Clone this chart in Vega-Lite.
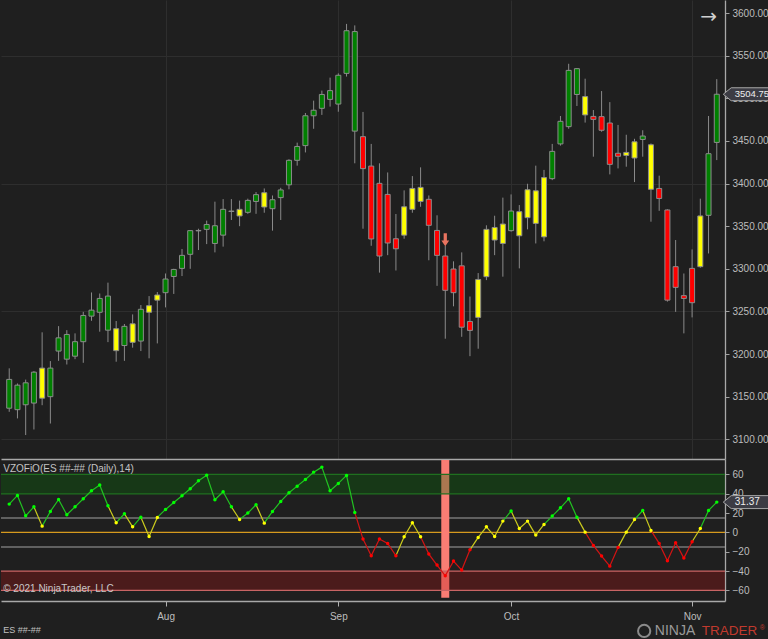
{
  "$schema": "https://vega.github.io/schema/vega-lite/v6.json",
  "background": "#1f1f1f",
  "padding": 0,
  "spacing": 0,
  "bounds": "flush",
  "config": {
    "view": {"stroke": null},
    "font": "Liberation Sans",
    "axis": {"labelFont": "Liberation Sans", "labelFontSize": 10, "labelColor": "#bdbdbd", "tickColor": "#a0a0a0", "domainColor": "#a0a0a0", "gridColor": "#2e2e2e", "labelOverlap": false, "labelAngle": 0},
    "axisRight": {"labelOverlap": false}
  },
  "datasets": {
    "bars": [
      {"date":"2020-07-07","open":3170.25,"high":3183.25,"low":3132.25,"close":3136.5,"vzo":29.3,"state":"up"},
      {"date":"2020-07-08","open":3134.75,"high":3165.5,"low":3124.5,"close":3163.5,"vzo":38.3,"state":"up"},
      {"date":"2020-07-09","open":3166.25,"high":3170,"low":3105,"close":3140.5,"vzo":17.2,"state":"up"},
      {"date":"2020-07-10","open":3142.5,"high":3180,"low":3111.5,"close":3178.75,"vzo":26.5,"state":"up"},
      {"date":"2020-07-13","open":3183.5,"high":3225.5,"low":3140,"close":3148.25,"vzo":6.5,"state":"neutral"},
      {"date":"2020-07-14","open":3150,"high":3191.75,"low":3118.5,"close":3183.5,"vzo":21.7,"state":"up"},
      {"date":"2020-07-15","open":3203.5,"high":3232.75,"low":3192,"close":3219,"vzo":34.1,"state":"up"},
      {"date":"2020-07-16","open":3223,"high":3228,"low":3187.75,"close":3194,"vzo":18.3,"state":"up"},
      {"date":"2020-07-17","open":3197.5,"high":3224.25,"low":3194,"close":3214.5,"vzo":26.5,"state":"up"},
      {"date":"2020-07-20","open":3214.5,"high":3249.5,"low":3189.75,"close":3245.25,"vzo":34.8,"state":"up"},
      {"date":"2020-07-21","open":3244.5,"high":3272.25,"low":3239,"close":3251.5,"vzo":43.1,"state":"up"},
      {"date":"2020-07-22","open":3249,"high":3271,"low":3226.25,"close":3265.25,"vzo":49.0,"state":"up"},
      {"date":"2020-07-23","open":3268,"high":3283.75,"low":3214,"close":3228,"vzo":27.6,"state":"up"},
      {"date":"2020-07-24","open":3229.75,"high":3238.75,"low":3191,"close":3204,"vzo":10.0,"state":"neutral"},
      {"date":"2020-07-27","open":3210,"high":3235.25,"low":3192,"close":3232.5,"vzo":19.3,"state":"up"},
      {"date":"2020-07-28","open":3235.5,"high":3246.5,"low":3207.5,"close":3213.75,"vzo":5.8,"state":"neutral"},
      {"date":"2020-07-29","open":3215.25,"high":3257.5,"low":3203.5,"close":3252.5,"vzo":15.8,"state":"up"},
      {"date":"2020-07-30","open":3256.75,"high":3268,"low":3195,"close":3249,"vzo":-4.2,"state":"neutral"},
      {"date":"2020-07-31","open":3263.25,"high":3272.75,"low":3212.5,"close":3269.25,"vzo":15.5,"state":"neutral"},
      {"date":"2020-08-03","open":3272,"high":3294.5,"low":3254.75,"close":3288,"vzo":23.8,"state":"up"},
      {"date":"2020-08-04","open":3291,"high":3300,"low":3270.5,"close":3299.25,"vzo":31.0,"state":"up"},
      {"date":"2020-08-05","open":3300.5,"high":3323.25,"low":3291.5,"close":3315.75,"vzo":37.9,"state":"up"},
      {"date":"2020-08-06","open":3317,"high":3345.5,"low":3300,"close":3344.75,"vzo":45.2,"state":"up"},
      {"date":"2020-08-07","open":3344.5,"high":3347,"low":3322,"close":3345,"vzo":53.4,"state":"up"},
      {"date":"2020-08-10","open":3346.25,"high":3356.5,"low":3329,"close":3352,"vzo":59.3,"state":"up"},
      {"date":"2020-08-11","open":3350.5,"high":3378.75,"low":3319.25,"close":3329.75,"vzo":33.8,"state":"up"},
      {"date":"2020-08-12","open":3339.5,"high":3381.75,"low":3326,"close":3369.75,"vzo":42.1,"state":"up"},
      {"date":"2020-08-13","open":3367.75,"high":3381.75,"low":3357.25,"close":3367.25,"vzo":26.5,"state":"up"},
      {"date":"2020-08-14","open":3369.75,"high":3380,"low":3350,"close":3362,"vzo":13.4,"state":"neutral"},
      {"date":"2020-08-17","open":3366.25,"high":3382.25,"low":3364.5,"close":3380.25,"vzo":20.0,"state":"up"},
      {"date":"2020-08-18","open":3379,"high":3390,"low":3364.5,"close":3387,"vzo":28.6,"state":"up"},
      {"date":"2020-08-19","open":3389.25,"high":3394.25,"low":3365.75,"close":3372.5,"vzo":9.6,"state":"neutral"},
      {"date":"2020-08-20","open":3370.5,"high":3386,"low":3344.75,"close":3381,"vzo":21.7,"state":"up"},
      {"date":"2020-08-21","open":3383.5,"high":3395,"low":3357.25,"close":3392.5,"vzo":32.1,"state":"up"},
      {"date":"2020-08-24","open":3398.5,"high":3428.5,"low":3393.25,"close":3427.25,"vzo":41.0,"state":"up"},
      {"date":"2020-08-25","open":3427.25,"high":3448,"low":3421,"close":3443.5,"vzo":47.9,"state":"up"},
      {"date":"2020-08-26","open":3444.5,"high":3482.75,"low":3436.5,"close":3479.5,"vzo":54.8,"state":"up"},
      {"date":"2020-08-27","open":3479.5,"high":3497.25,"low":3464.25,"close":3486,"vzo":62.4,"state":"up"},
      {"date":"2020-08-28","open":3488.25,"high":3509,"low":3480.5,"close":3504.5,"vzo":67.6,"state":"up"},
      {"date":"2020-08-31","open":3509,"high":3524.25,"low":3490.25,"close":3498.75,"vzo":43.1,"state":"up"},
      {"date":"2020-09-01","open":3493.25,"high":3529.25,"low":3484.25,"close":3527,"vzo":50.7,"state":"up"},
      {"date":"2020-09-02","open":3529.25,"high":3587.25,"low":3525.5,"close":3579.25,"vzo":59.0,"state":"up"},
      {"date":"2020-09-03","open":3578.25,"high":3585.5,"low":3423.75,"close":3461.5,"vzo":20.7,"state":"up"},
      {"date":"2020-09-04","open":3455,"high":3484,"low":3347,"close":3417.5,"vzo":-6.9,"state":"down"},
      {"date":"2020-09-08","open":3420.5,"high":3446.5,"low":3327,"close":3335,"vzo":-24.2,"state":"down"},
      {"date":"2020-09-09","open":3315,"high":3423.75,"low":3295.5,"close":3400.25,"vzo":-6.9,"state":"down"},
      {"date":"2020-09-10","open":3387.25,"high":3413,"low":3316,"close":3330.25,"vzo":-11.4,"state":"down"},
      {"date":"2020-09-11","open":3335.25,"high":3364.25,"low":3298,"close":3323.5,"vzo":-24.2,"state":"down"},
      {"date":"2020-09-14","open":3339.5,"high":3392,"low":3335.25,"close":3372.75,"vzo":-4.5,"state":"neutral"},
      {"date":"2020-09-15","open":3369.75,"high":3408.75,"low":3365.75,"close":3394.25,"vzo":10.0,"state":"neutral"},
      {"date":"2020-09-16","open":3395.5,"high":3419,"low":3372.75,"close":3379,"vzo":-4.5,"state":"neutral"},
      {"date":"2020-09-17","open":3381.5,"high":3386,"low":3310,"close":3351,"vzo":-22.4,"state":"down"},
      {"date":"2020-09-18","open":3345,"high":3362.75,"low":3280,"close":3315.75,"vzo":-33.8,"state":"down"},
      {"date":"2020-09-21","open":3315,"high":3327,"low":3218,"close":3274.75,"vzo":-44.9,"state":"down"},
      {"date":"2020-09-22","open":3272,"high":3308.75,"low":3256,"close":3299.75,"vzo":-29.7,"state":"down"},
      {"date":"2020-09-23","open":3303.5,"high":3319.25,"low":3220.25,"close":3231.5,"vzo":-39.0,"state":"down"},
      {"date":"2020-09-24","open":3227.75,"high":3267.5,"low":3197.5,"close":3238.25,"vzo":-18.0,"state":"down"},
      {"date":"2020-09-25","open":3243,"high":3295,"low":3206.25,"close":3287.5,"vzo":-5.2,"state":"neutral"},
      {"date":"2020-09-28","open":3290.75,"high":3351,"low":3286.75,"close":3346.25,"vzo":5.8,"state":"neutral"},
      {"date":"2020-09-29","open":3348.5,"high":3362.25,"low":3316,"close":3333.75,"vzo":-4.2,"state":"neutral"},
      {"date":"2020-09-30","open":3329.75,"high":3383.5,"low":3290.75,"close":3352.5,"vzo":11.7,"state":"neutral"},
      {"date":"2020-10-01","open":3344.75,"high":3387.25,"low":3343.5,"close":3367.75,"vzo":22.1,"state":"up"},
      {"date":"2020-10-02","open":3367,"high":3374.75,"low":3300.5,"close":3338.75,"vzo":4.1,"state":"neutral"},
      {"date":"2020-10-05","open":3360,"high":3399.75,"low":3346.25,"close":3392.75,"vzo":11.7,"state":"neutral"},
      {"date":"2020-10-06","open":3391.5,"high":3421,"low":3329.75,"close":3353.25,"vzo":-2.8,"state":"neutral"},
      {"date":"2020-10-07","open":3337.5,"high":3416,"low":3332.25,"close":3407,"vzo":8.3,"state":"neutral"},
      {"date":"2020-10-08","open":3405.75,"high":3446.5,"low":3404,"close":3437.75,"vzo":16.9,"state":"up"},
      {"date":"2020-10-09","open":3446.5,"high":3479.25,"low":3444.5,"close":3473,"vzo":25.5,"state":"up"},
      {"date":"2020-10-12","open":3466.75,"high":3540.5,"low":3464.25,"close":3532.75,"vzo":34.8,"state":"up"},
      {"date":"2020-10-13","open":3534.75,"high":3535.5,"low":3491,"close":3504.5,"vzo":15.8,"state":"up"},
      {"date":"2020-10-14","open":3502,"high":3523,"low":3471.5,"close":3480.5,"vzo":0.3,"state":"neutral"},
      {"date":"2020-10-15","open":3478.75,"high":3486.25,"low":3431.5,"close":3475.25,"vzo":-13.5,"state":"down"},
      {"date":"2020-10-16","open":3478.5,"high":3508.5,"low":3460.75,"close":3462.5,"vzo":-24.5,"state":"down"},
      {"date":"2020-10-19","open":3471,"high":3495.5,"low":3410.75,"close":3422.5,"vzo":-34.9,"state":"down"},
      {"date":"2020-10-20","open":3435.5,"high":3468.75,"low":3417.75,"close":3432,"vzo":-15.5,"state":"down"},
      {"date":"2020-10-21","open":3433,"high":3457.25,"low":3419.75,"close":3436.5,"vzo":0.3,"state":"neutral"},
      {"date":"2020-10-22","open":3430,"high":3452.5,"low":3401.75,"close":3449,"vzo":13.4,"state":"neutral"},
      {"date":"2020-10-23","open":3451.75,"high":3462.5,"low":3431.5,"close":3455.75,"vzo":22.7,"state":"up"},
      {"date":"2020-10-26","open":3445.5,"high":3447,"low":3355.25,"close":3393.25,"vzo":2.1,"state":"neutral"},
      {"date":"2020-10-27","open":3394.25,"high":3409.25,"low":3368,"close":3382.5,"vzo":-11.4,"state":"down"},
      {"date":"2020-10-28","open":3369,"high":3369.75,"low":3261.5,"close":3263.25,"vzo":-29.3,"state":"down"},
      {"date":"2020-10-29","open":3278.25,"high":3333.75,"low":3249.5,"close":3302.5,"vzo":-10.7,"state":"down"},
      {"date":"2020-10-30","open":3268.5,"high":3294.5,"low":3224.25,"close":3265.25,"vzo":-26.6,"state":"down"},
      {"date":"2020-11-02","open":3260.25,"high":3322.75,"low":3243,"close":3300.5,"vzo":-9.7,"state":"down"},
      {"date":"2020-11-03","open":3302.5,"high":3382.25,"low":3301.25,"close":3362,"vzo":4.1,"state":"neutral"},
      {"date":"2020-11-04","open":3362.75,"high":3479.25,"low":3318,"close":3435,"vzo":22.7,"state":"up"},
      {"date":"2020-11-05","open":3448.25,"high":3522.5,"low":3427.5,"close":3504.75,"vzo":31.37,"state":"up"}
    ],
    "signals": [{"date":"2020-09-21","price":3334}]
  },
  "resolve": {"scale": {"color": "independent"}},
  "vconcat": [
    {
      "width": 724,
      "height": 459,
      "data": {"name": "bars"},
      "layer": [
        {
          "mark": {"type": "rule", "color": "#8a8a8a", "strokeWidth": 1},
          "encoding": {
            "x": {"field": "date", "type": "ordinal", "scale": {"type": "point", "padding": 1.22},
              "axis": {"values": ["2020-08-03","2020-09-01","2020-10-01","2020-11-02"], "labels": false, "ticks": false, "domain": true, "domainWidth": 1.5, "domainColor": "#a8a8a8", "grid": true, "gridColor": "#2e2e2e", "title": null}},
            "y": {"field": "low", "type": "quantitative", "scale": {"domain": [3076.9, 3615.3], "nice": false, "zero": false},
              "axis": {"orient": "right", "values": [3100,3150,3200,3250,3300,3350,3400,3450,3500,3550,3600], "format": ".2f", "title": null, "tickSize": 4, "labelPadding": 3, "domainWidth": 1.3, "domainColor": "#a8a8a8", "grid": true, "gridColor": "#2e2e2e", "gridOpacity": {"condition": {"test": "datum.value % 150 === 100", "value": 1}, "value": 0}}},
            "y2": {"field": "high"}
          }
        },
        {
          "mark": {"type": "bar", "width": 5, "stroke": "#8c8c8c", "strokeWidth": 1},
          "encoding": {
            "x": {"field": "date", "type": "ordinal"},
            "y": {"field": "open", "type": "quantitative"},
            "y2": {"field": "close"},
            "color": {"field": "state", "type": "nominal", "scale": {"domain": ["up","neutral","down"], "range": ["#008000","#ffff00","#ff0000"]}, "legend": null}
          }
        },
        {
          "data": {"name": "signals"},
          "mark": {"type": "point", "shape": "M-0.25,-1 L0.25,-1 L0.25,0.1 L0.6,0.1 L0,1 L-0.6,0.1 L-0.25,0.1 Z", "size": 169, "filled": true, "color": "#e8735f", "opacity": 1, "strokeWidth": 0},
          "encoding": {
            "x": {"field": "date", "type": "ordinal"},
            "y": {"field": "price", "type": "quantitative"}
          }
        },
        {
          "data": {"values": [{}]},
          "mark": {"type": "text", "text": "→", "font": "DejaVu Sans", "fontSize": 20, "color": "#cfcfcf"},
          "encoding": {
            "x": {"datum": "2020-11-04", "type": "ordinal"},
            "y": {"datum": 3595, "type": "quantitative"}
          }
        },
        {
          "transform": [{"filter": "datum.date == '2020-11-05'"}],
          "mark": {"type": "point", "shape": "M-1,0 L-0.67,-0.27 L1,-0.27 L1,0.27 L-0.67,0.27 Z", "size": 2304, "filled": true, "fill": "#3c3c44", "stroke": "#a8a8a8", "strokeWidth": 1, "opacity": 1, "xOffset": 30.5},
          "encoding": {
            "x": {"field": "date", "type": "ordinal"},
            "y": {"field": "close", "type": "quantitative"}
          }
        },
        {
          "transform": [{"filter": "datum.date == '2020-11-05'"}],
          "mark": {"type": "text", "align": "left", "dx": 18, "fontSize": 9.5, "color": "#eeeeee"},
          "encoding": {
            "x": {"field": "date", "type": "ordinal"},
            "y": {"field": "close", "type": "quantitative"},
            "text": {"field": "close", "type": "quantitative", "format": ".2f"}
          }
        }
      ]
    },
    {
      "width": 724,
      "height": 142,
      "resolve": {"scale": {"color": "independent"}},
      "layer": [
        {
          "data": {"name": "bars"},
          "mark": {"type": "circle", "size": 0, "opacity": 0},
          "encoding": {
            "x": {"field": "date", "type": "ordinal", "scale": {"type": "point", "padding": 1.22},
              "axis": {"values": ["2020-08-03","2020-09-01","2020-10-01","2020-11-02"], "labelExpr": "utcFormat(toDate(datum.value), '%b')", "labelAngle": 0, "labelAlign": "center", "labelBaseline": "top", "grid": false, "tickSize": 5, "tickColor": "#b0b0b0", "domainWidth": 1.6, "domainColor": "#a8a8a8", "labelPadding": 5, "title": null}},
            "y": {"field": "vzo", "type": "quantitative", "scale": {"domain": [-71, 76], "nice": false, "zero": false},
              "axis": {"orient": "right", "values": [-60,-40,-20,0,20,40,60], "tickCount": 7, "labelOverlap": false, "labelSeparation": 0, "labelBound": false, "title": null, "tickSize": 4, "labelPadding": 3, "domainWidth": 1.3, "domainColor": "#a8a8a8", "grid": false}}
          }
        },
        {
          "data": {"values": [{}]},
          "mark": {"type": "rule", "color": "#777777", "strokeWidth": 1.5},
          "encoding": {"y": {"datum": 15, "type": "quantitative"}}
        },
        {
          "data": {"values": [{}]},
          "mark": {"type": "rule", "color": "#777777", "strokeWidth": 1.5},
          "encoding": {"y": {"datum": -15, "type": "quantitative"}}
        },
        {
          "data": {"values": [{}]},
          "mark": {"type": "rule", "color": "#d69a1e", "strokeWidth": 1.2},
          "encoding": {"y": {"datum": 0, "type": "quantitative"}}
        },
        {
          "data": {"name": "signals"},
          "mark": {"type": "bar", "width": 8, "color": "#fa7d74", "opacity": 1},
          "encoding": {
            "x": {"field": "date", "type": "ordinal"},
            "y": {"datum": 75, "type": "quantitative"},
            "y2": {"datum": -67.6}
          }
        },
        {
          "data": {"values": [{}]},
          "mark": {"type": "rect", "color": "#0a6e0a", "opacity": 0.33},
          "encoding": {"y": {"datum": 40, "type": "quantitative"}, "y2": {"datum": 60}}
        },
        {
          "data": {"values": [{}]},
          "mark": {"type": "rect", "color": "#b41414", "opacity": 0.3},
          "encoding": {"y": {"datum": -60, "type": "quantitative"}, "y2": {"datum": -40}}
        },
        {
          "data": {"values": [{}]},
          "mark": {"type": "rule", "color": "#1f701f", "strokeWidth": 1.2},
          "encoding": {"y": {"datum": 60, "type": "quantitative"}}
        },
        {
          "data": {"values": [{}]},
          "mark": {"type": "rule", "color": "#1f701f", "strokeWidth": 1.2},
          "encoding": {"y": {"datum": 40, "type": "quantitative"}}
        },
        {
          "data": {"values": [{}]},
          "mark": {"type": "rule", "color": "#c86464", "strokeWidth": 1.2},
          "encoding": {"y": {"datum": -40, "type": "quantitative"}}
        },
        {
          "data": {"values": [{}]},
          "mark": {"type": "rule", "color": "#c86464", "strokeWidth": 1.2},
          "encoding": {"y": {"datum": -60, "type": "quantitative"}}
        },
        {
          "data": {"name": "bars"},
          "transform": [
            {"window": [{"op": "lead", "field": "date", "as": "date2"}, {"op": "lead", "field": "vzo", "as": "vzo2"}, {"op": "lead", "field": "state", "as": "state2"}], "sort": [{"field": "date", "order": "ascending"}]},
            {"filter": "datum.date2 != null"}
          ],
          "mark": {"type": "rule", "strokeWidth": 1.2},
          "encoding": {
            "x": {"field": "date", "type": "ordinal"},
            "x2": {"field": "date2"},
            "y": {"field": "vzo", "type": "quantitative"},
            "y2": {"field": "vzo2"},
            "color": {"field": "state2", "type": "nominal", "scale": {"domain": ["up","neutral","down"], "range": ["#22c322","#cccc1e","#d41414"]}, "legend": null}
          }
        },
        {
          "data": {"name": "bars"},
          "mark": {"type": "circle", "size": 12, "opacity": 1},
          "encoding": {
            "x": {"field": "date", "type": "ordinal"},
            "y": {"field": "vzo", "type": "quantitative"},
            "color": {"field": "state", "type": "nominal", "scale": {"domain": ["up","neutral","down"], "range": ["#00ff00","#ffff00","#ff0000"]}, "legend": null}
          }
        },
        {
          "data": {"values": [{}]},
          "mark": {"type": "text", "text": "VZOFiO(ES ##-## (Daily),14)", "align": "left", "dx": -6, "fontSize": 10, "color": "#c4c4c4"},
          "encoding": {"x": {"datum": "2020-07-07", "type": "ordinal"}, "y": {"datum": 65.5, "type": "quantitative"}}
        },
        {
          "data": {"values": [{}]},
          "mark": {"type": "text", "text": "© 2021 NinjaTrader, LLC", "align": "left", "dx": -6, "fontSize": 10, "color": "#c8c8c8"},
          "encoding": {"x": {"datum": "2020-07-07", "type": "ordinal"}, "y": {"datum": -58.7, "type": "quantitative"}}
        },
        {
          "data": {"values": [{}]},
          "mark": {"type": "text", "text": "ES ##-##", "align": "left", "dx": -6, "fontSize": 9, "color": "#c0c0c0"},
          "encoding": {"x": {"datum": "2020-07-07", "type": "ordinal"}, "y": {"datum": -101, "type": "quantitative"}}
        },
        {
          "data": {"values": [{}]},
          "mark": {"type": "text", "text": "NINJA", "align": "left", "dx": -62, "fontSize": 14, "color": "#9a9a9a"},
          "encoding": {"x": {"datum": "2020-11-05", "type": "ordinal"}, "y": {"datum": -102, "type": "quantitative"}}
        },
        {
          "data": {"values": [{}]},
          "mark": {"type": "text", "text": "TRADER", "align": "left", "dx": -15, "fontSize": 13.5, "color": "#c23a2e"},
          "encoding": {"x": {"datum": "2020-11-05", "type": "ordinal"}, "y": {"datum": -102, "type": "quantitative"}}
        },
        {
          "data": {"values": [{}]},
          "mark": {"type": "text", "text": "®", "align": "left", "dx": 43, "dy": -3, "fontSize": 7, "color": "#c23a2e"},
          "encoding": {"x": {"datum": "2020-11-05", "type": "ordinal"}, "y": {"datum": -102, "type": "quantitative"}}
        },
        {
          "data": {"values": [{}]},
          "mark": {"type": "point", "shape": "circle", "size": 150, "filled": false, "stroke": "#8a8a8a", "strokeWidth": 2, "opacity": 1, "xOffset": -72.6},
          "encoding": {"x": {"datum": "2020-11-05", "type": "ordinal"}, "y": {"datum": -102, "type": "quantitative"}}
        },
        {
          "data": {"name": "bars"},
          "transform": [{"filter": "datum.date == '2020-11-05'"}],
          "mark": {"type": "point", "shape": "M-1,0 L-0.67,-0.27 L1,-0.27 L1,0.27 L-0.67,0.27 Z", "size": 2304, "filled": true, "fill": "#3c3c44", "stroke": "#a8a8a8", "strokeWidth": 1, "opacity": 1, "xOffset": 30.5},
          "encoding": {"x": {"field": "date", "type": "ordinal"}, "y": {"field": "vzo", "type": "quantitative"}}
        },
        {
          "data": {"name": "bars"},
          "transform": [{"filter": "datum.date == '2020-11-05'"}],
          "mark": {"type": "text", "align": "left", "dx": 18, "fontSize": 10, "color": "#eeeeee"},
          "encoding": {
            "x": {"field": "date", "type": "ordinal"},
            "y": {"field": "vzo", "type": "quantitative"},
            "text": {"field": "vzo", "type": "quantitative", "format": ".2f"}
          }
        }
      ]
    }
  ]
}
